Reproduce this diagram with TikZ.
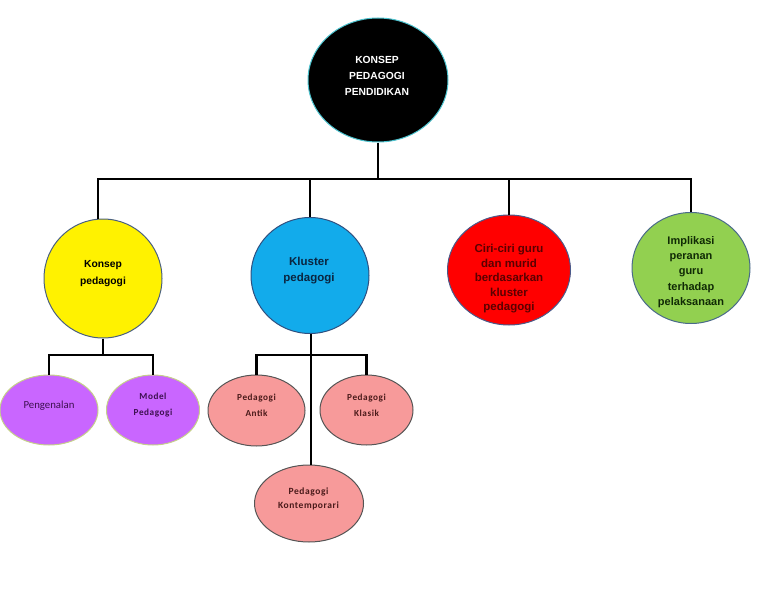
\documentclass[tikz,border=0pt]{standalone}
\usepackage{fontspec}
\setmainfont{Liberation Sans}
\newfontfamily\carl{Carlito}
\newfontfamily\carlsp[LetterSpace=6]{Carlito}
\usetikzlibrary{shapes.geometric}
\definecolor{topbd}{HTML}{4CC3CF}
\definecolor{bluef}{HTML}{12ABEB}
\definecolor{bluebd}{HTML}{2F4F7F}
\definecolor{yellbd}{HTML}{4A6080}
\definecolor{redbd}{HTML}{4A5A8A}
\definecolor{greenf}{HTML}{92D050}
\definecolor{greenbd}{HTML}{4A6A8A}
\definecolor{purf}{HTML}{C966FF}
\definecolor{purbd}{HTML}{C5D08A}
\definecolor{pinkf}{HTML}{F79A9A}
\definecolor{pinkbd}{HTML}{555555}
\definecolor{navy}{HTML}{0A2540}
\definecolor{maroon}{HTML}{5A0000}
\definecolor{dgreen}{HTML}{102A05}
\definecolor{dpur}{HTML}{3D1050}
\definecolor{dpink}{HTML}{4A1A1A}
\begin{document}
\begin{tikzpicture}[x=1pt,y=-1pt,
  blob/.style={ellipse, draw, line width=1pt, inner sep=0pt},
  conn/.style={draw=black, line width=2.9pt, line join=miter},
  txt/.style={align=center, inner sep=0pt},
  hitxt/.style={txt, font=\bfseries\fontsize{10.3}{16}\selectfont},
  lotxt/.style={txt, font=\carlsp\bfseries\fontsize{9.2}{16}\selectfont}]
\useasboundingbox (0,0) rectangle (768,594);
% shapes
\node[blob, fill=black, draw=topbd, minimum width=140pt, minimum height=124pt] (top) at (378,80) {};
\node[blob, fill=yellow, draw=yellbd, minimum width=118pt, minimum height=119pt] (konsep) at (103,278.5) {};
\node[blob, fill=bluef, draw=bluebd, minimum width=118pt, minimum height=116pt] (kluster) at (310,275.5) {};
\node[blob, fill=red, draw=redbd, minimum width=123pt, minimum height=110pt] (ciri) at (509,270) {};
\node[blob, fill=greenf, draw=greenbd, minimum width=118pt, minimum height=111pt] (implik) at (691,268) {};
\node[blob, fill=purf, draw=purbd, minimum width=98pt, minimum height=70pt] (peng) at (49,410) {};
\node[blob, fill=purf, draw=purbd, minimum width=93pt, minimum height=70pt] (model) at (153,410) {};
\node[blob, fill=pinkf, draw=pinkbd, minimum width=97pt, minimum height=71pt] (antik) at (256.5,410.5) {};
\node[blob, fill=pinkf, draw=pinkbd, minimum width=93pt, minimum height=70pt] (klasik) at (366.5,410) {};
\node[blob, fill=pinkf, draw=pinkbd, minimum width=109pt, minimum height=77pt] (kontemp) at (309,503.5) {};
% texts
\node[hitxt, text=white] (toptxt) at (377,76) {KONSEP\\PEDAGOGI\\PENDIDIKAN};
\node[hitxt, text=black, font=\bfseries\fontsize{10.3}{17}\selectfont] (konseptxt) at (103,274) {Konsep\\pedagogi};
\node[hitxt, text=navy, font=\bfseries\fontsize{11.5}{16}\selectfont] (klustertxt) at (309,271) {Kluster\\pedagogi};
\node[hitxt, text=maroon, font=\bfseries\fontsize{11.5}{14.5}\selectfont] (ciritxt) at (509,279) {Ciri-ciri guru\\dan murid\\berdasarkan\\kluster\\pedagogi};
\node[hitxt, text=dgreen, font=\bfseries\fontsize{11}{15.3}\selectfont] (impliktxt) at (691,272) {Implikasi\\peranan\\guru\\terhadap\\pelaksanaan};
\node[txt, text=dpur, font=\carl\fontsize{10.8}{14}\selectfont] (pengtxt) at (49,406) {Pengenalan};
\node[lotxt, text=dpur] (modeltxt) at (153,405) {Model\\Pedagogi};
\node[lotxt, text=dpink] (antiktxt) at (256.5,405) {Pedagogi\\Antik};
\node[lotxt, text=dpink] (klasiktxt) at (366.5,405) {Pedagogi\\Klasik};
\node[lotxt, text=dpink, font=\carlsp\bfseries\fontsize{9.5}{14}\selectfont] (kontemptxt) at (308.5,498.5) {Pedagogi\\Kontemporari};
% junctions
\coordinate (barL) at (98,179);
\coordinate (barR) at (691,179);
\coordinate (kj) at (103,355);
\coordinate (kkj) at (311,355);
% connectors
\draw[conn] (top.south) -- (top.south |- barL);
\draw[conn] (barL |- konsep.north) -- (barL) -- (barR) -- (implik.north);
\draw[conn] (kluster.north |- barL) -- (kluster.north);
\draw[conn] (ciri.north |- barL) -- (ciri.north);
\draw[conn] (konsep.south) -- (kj);
\draw[conn] (peng.north) |- (kj) -| (model.north);
\draw[conn] (kkj |- kluster.south) -- (kkj |- kontemp.north);
\draw[conn] (antik.north) |- (kkj) -| (klasik.north);
\end{tikzpicture}
\end{document}
